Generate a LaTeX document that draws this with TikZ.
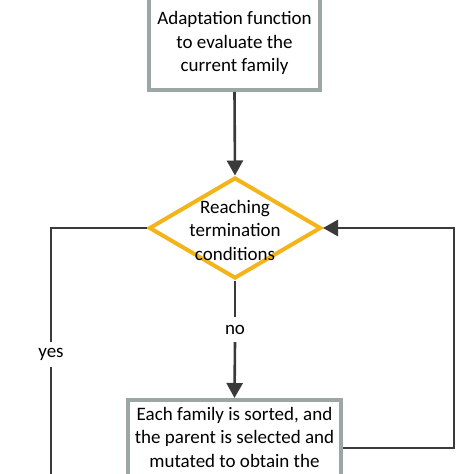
\documentclass[tikz,border=0pt]{standalone}
\usepackage{fontspec}
\setmainfont{Carlito}
\usetikzlibrary{shapes.geometric,arrows.meta}
\definecolor{boxgray}{HTML}{9CA7A5}
\definecolor{dyellow}{HTML}{F2B418}
\definecolor{lineg}{HTML}{3A3A3A}
\tikzset{
  box/.style={draw=boxgray, line width=4pt, fill=white, inner sep=0pt},
  dia/.style={diamond, draw=dyellow, line width=4pt, fill=white, inner sep=0pt},
  txt/.style={align=center, inner sep=0pt, font=\fontsize{19}{23.5}\selectfont, text=black},
  conn/.style={draw=lineg, line width=2.6pt},
  arr/.style={conn, -{Triangle[length=15pt,width=16pt]}},
  lab/.style={font=\fontsize{19}{23}\selectfont, inner sep=0pt, minimum height=25pt}
}
\begin{document}
\begin{tikzpicture}[x=1pt,y=-1pt]
\useasboundingbox (0,0) rectangle (474,474);
\clip (0,0) rectangle (474,474);
\fill[white] (0,0) rectangle (474,474);
% top box
\node[box, minimum width=171pt, minimum height=97pt] (top) at (234.5,41.5) {};
\node[txt] (toptxt) at (234.5,43) {Adaptation function\\to evaluate the\\current family};
% diamond
\node[dia, minimum width=172pt, minimum height=101pt] (d) at (235,228) {};
\node[txt] (dtxt) at (235,230) {Reaching\\termination\\conditions};
% bottom box
\node[box, anchor=north, minimum width=213pt, minimum height=120pt] (b) at (234.5,398) {};
\node[txt, anchor=north] (btxt) at ([yshift=-9pt]b.north) {Each family is sorted, and\\the parent is selected and\\mutated to obtain the};
% labels
\node[lab] (no) at (235,329.5) {no};
\node[lab] (yes) at (51,354.5) {yes};
% coordinates
\coordinate (lc) at (51,228);
\coordinate (lb) at (51,480);
\coordinate (rb) at (454,448);
\coordinate (rt) at (454,228);
% connectors
\draw[arr] (top.south) -- (d.north);
\draw[conn] (d.south) -- (no.north);
\draw[arr] (no.south) -- (b.north);
\draw[conn] (d.west) -- (lc) -- (yes.north);
\draw[conn] (yes.south) -- (lb);
\draw[arr] (b.east |- rb) -- (rb) -- (rt) -- (d.east);
\end{tikzpicture}
\end{document}
